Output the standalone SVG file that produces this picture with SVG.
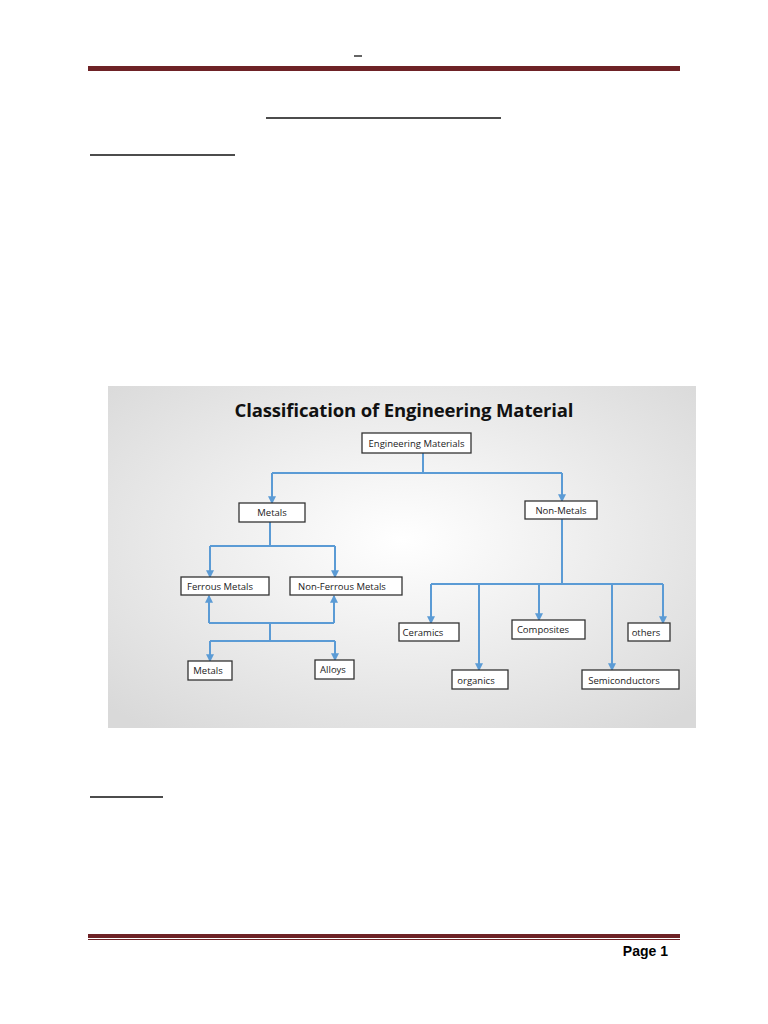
<svg xmlns="http://www.w3.org/2000/svg" width="768" height="1024" viewBox="0 0 768 1024">
<defs>
<radialGradient id="bg" cx="0.5" cy="0.45" r="0.7">
<stop offset="0" stop-color="#ffffff"/><stop offset="1" stop-color="#d9d9d9"/>
</radialGradient>
<marker id="ah" viewBox="0 0 6 6" refX="5" refY="3" markerWidth="4" markerHeight="4" orient="auto"><path d="M0,0 L6,3 L0,6 z" fill="#5b9bd5"/></marker>
</defs>
<style>
.n rect{fill:#fff;stroke:#333;stroke-width:1.3}
.n text{font-family:"Open Sans","Liberation Sans",sans-serif;font-size:9.5px;fill:#222;text-anchor:middle}
#connectors path{fill:none;stroke:#5b9bd5;stroke-width:2}
.ul{stroke:#111;stroke-width:1.3}
</style>
<rect width="768" height="1024" fill="#fff"/>
<line x1="354" y1="56" x2="362" y2="56" class="ul"/>
<rect x="88" y="66" width="592" height="5" fill="#6e2226"/>
<line x1="266" y1="118" x2="501" y2="118" class="ul"/>
<line x1="90" y1="155" x2="235" y2="155" class="ul"/>
<line x1="90" y1="797" x2="163" y2="797" class="ul"/>
<rect x="88" y="934" width="592" height="4" fill="#6e2226"/>
<rect x="88" y="939" width="592" height="1" fill="#6e2226"/>
<text x="668" y="956" text-anchor="end" font-family="Liberation Sans,sans-serif" font-weight="bold" font-size="14">Page 1</text>

<rect x="108" y="386" width="588" height="342" fill="url(#bg)"/>
<text x="404" y="417" text-anchor="middle" font-family="Open Sans,Liberation Sans,sans-serif" font-weight="bold" font-size="18.5" textLength="339" fill="#111">Classification of Engineering Material</text>

<g id="connectors">
<path d="M423,453 V473 M272,473 H562" />
<path d="M272,473 V503" marker-end="url(#ah)"/>
<path d="M562,473 V501" marker-end="url(#ah)"/>
<path d="M270,522 V546 M210,546 H335"/>
<path d="M210,546 V577" marker-end="url(#ah)"/>
<path d="M335,546 V577" marker-end="url(#ah)"/>
<path d="M209,623 H334"/>
<path d="M209,623 V596" marker-end="url(#ah)"/>
<path d="M334,623 V596" marker-end="url(#ah)"/>
<path d="M270,623 V641 M210,641 H335"/>
<path d="M210,641 V661" marker-end="url(#ah)"/>
<path d="M335,641 V660" marker-end="url(#ah)"/>
<path d="M562,519 V584 M431,584 H663"/>
<path d="M431,584 V623" marker-end="url(#ah)"/>
<path d="M479,584 V670" marker-end="url(#ah)"/>
<path d="M539,584 V620" marker-end="url(#ah)"/>
<path d="M612,584 V670" marker-end="url(#ah)"/>
<path d="M663,584 V623" marker-end="url(#ah)"/>
</g>

<g id="n-eng" class="n"><rect x="362" y="433" width="109" height="20" stroke-width="1.8"/><text x="416.5" y="446.5">Engineering Materials</text></g>
<g id="n-metals" class="n"><rect x="239" y="503" width="66" height="19"/><text x="272" y="516">Metals</text></g>
<g id="n-nonmetals" class="n"><rect x="525" y="501" width="72" height="18"/><text x="561" y="513.5">Non-Metals</text></g>
<g id="n-ferrous" class="n"><rect x="181" y="577" width="88" height="18"/><text x="220" y="590">Ferrous Metals</text></g>
<g id="n-nonferrous" class="n"><rect x="290" y="577" width="112" height="18"/><text x="342" y="589.5">Non-Ferrous Metals</text></g>
<g id="n-metals2" class="n"><rect x="188" y="661" width="44" height="19"/><text x="208" y="674">Metals</text></g>
<g id="n-alloys" class="n"><rect x="315" y="660" width="39" height="19"/><text x="333" y="673">Alloys</text></g>
<g id="n-ceramics" class="n"><rect x="399" y="623" width="60" height="18"/><text x="423" y="636">Ceramics</text></g>
<g id="n-organics" class="n"><rect x="452" y="670" width="56" height="19"/><text x="476" y="683.5">organics</text></g>
<g id="n-composites" class="n"><rect x="512" y="620" width="73" height="19"/><text x="543" y="633">Composites</text></g>
<g id="n-semi" class="n"><rect x="582" y="670" width="97" height="19"/><text x="624" y="683.5">Semiconductors</text></g>
<g id="n-others" class="n"><rect x="628" y="623" width="42" height="18"/><text x="646" y="636">others</text></g>
</svg>
